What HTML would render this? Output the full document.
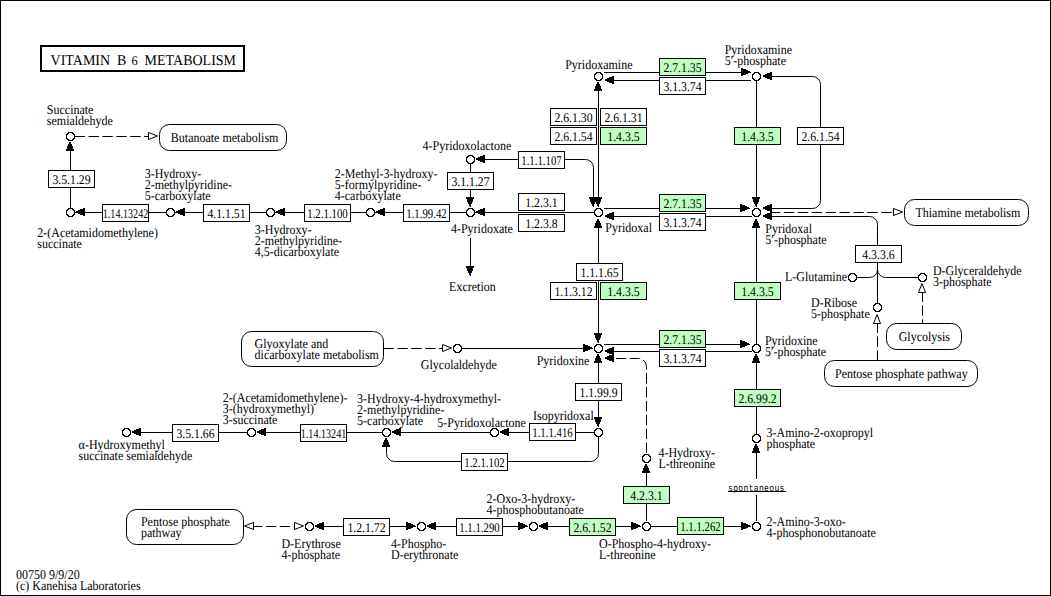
<!DOCTYPE html><html><head><meta charset="utf-8"><style>html,body{margin:0;padding:0;background:#fff;overflow:hidden}svg{display:block;text-rendering:geometricPrecision}.cpd{font-family:"Liberation Serif", serif;font-size:12px;fill:#000}.ec{font-family:"Liberation Serif", serif;font-size:12px;fill:#000}.ttl{font-family:"Liberation Serif", serif;fill:#000}.spon{font-family:"Liberation Mono", monospace;font-size:8px;fill:#000}</style></head><body>
<svg width="1051" height="596" viewBox="0 0 1051 596" stroke-width="1">
<rect x="0.5" y="0.5" width="1050" height="595" fill="#fff" stroke="#000"/>
<rect x="41" y="46" width="203" height="25" fill="#fff" stroke="#000" stroke-width="2"/>
<text transform="translate(50.6 64.7) scale(1 1.06)" class="ttl" style="font-size:14px">VITAMIN</text>
<text transform="translate(117.0 64.7) scale(1 1.06)" class="ttl" style="font-size:14px">B</text>
<text transform="translate(131.6 64.7) scale(1 1.06)" class="ttl" style="font-size:12.4px">6</text>
<text transform="translate(144.6 64.7) scale(1 1.06)" class="ttl" style="font-size:14px">METABOLISM</text>
<path d="M70.5 150V208" fill="none" stroke="#000"/>
<polygon points="69,142 69,144 68,144 68,146 67,146 67,149 66,149 66,151 74,151 74,149 73,149 73,146 72,146 72,144 71,144 71,142" fill="#000"/>
<path d="M74.6 136.5H148.5" fill="none" stroke="#000" stroke-dasharray="10.4 3.5"/>
<polygon points="157.5,136 148.5,132.5 148.5,139.5" fill="#fff" stroke="#000"/>
<path d="M75 212.5H166" fill="none" stroke="#000"/>
<polygon points="76,211 78,211 78,210 80,210 80,209 83,209 83,208 85,208 85,216 83,216 83,215 80,215 80,214 78,214 78,213 76,213" fill="#000"/>
<path d="M175 212.5H266" fill="none" stroke="#000"/>
<polygon points="176,211 178,211 178,210 180,210 180,209 183,209 183,208 185,208 185,216 183,216 183,215 180,215 180,214 178,214 178,213 176,213" fill="#000"/>
<path d="M275 212.5H366" fill="none" stroke="#000"/>
<polygon points="276,211 278,211 278,210 280,210 280,209 283,209 283,208 285,208 285,216 283,216 283,215 280,215 280,214 278,214 278,213 276,213" fill="#000"/>
<path d="M375 212.5H466" fill="none" stroke="#000"/>
<polygon points="376,211 378,211 378,210 380,210 380,209 383,209 383,208 385,208 385,216 383,216 383,215 380,215 380,214 378,214 378,213 376,213" fill="#000"/>
<path d="M475 212.5H594" fill="none" stroke="#000"/>
<polygon points="476,211 478,211 478,210 480,210 480,209 483,209 483,208 485,208 485,216 483,216 483,215 480,215 480,214 478,214 478,213 476,213" fill="#000"/>
<path d="M470.5 238V268" fill="none" stroke="#000"/>
<polygon points="470,276 470,275 469,275 469,273 468,273 468,271 467,271 467,268 466,268 466,266 474,266 474,268 473,268 473,271 472,271 472,273 471,273 471,275 471,275 471,276" fill="#000"/>
<path d="M470.5 164V200" fill="none" stroke="#000"/>
<polygon points="470,207 470,206 469,206 469,204 468,204 468,202 467,202 467,199 466,199 466,197 474,197 474,199 473,199 473,202 472,202 472,204 471,204 471,206 471,206 471,207" fill="#000"/>
<path d="M484 159.5 H585.5 A8 8 0 0 1 593.5 167.5 V200" fill="none" stroke="#000"/>
<polygon points="476,158 478,158 478,157 480,157 480,156 483,156 483,155 485,155 485,163 483,163 483,162 480,162 480,161 478,161 478,160 476,160" fill="#000"/>
<polygon points="593,207 593,206 592,206 592,204 591,204 591,202 590,202 590,199 589,199 589,197 597,197 597,199 596,199 596,202 595,202 595,204 594,204 594,206 594,206 594,207" fill="#000"/>
<path d="M598.5 88V200" fill="none" stroke="#000"/>
<polygon points="597,82 597,84 596,84 596,86 595,86 595,89 594,89 594,91 602,91 602,89 601,89 601,86 600,86 600,84 599,84 599,82" fill="#000"/>
<polygon points="598,207 598,206 597,206 597,204 596,204 596,202 595,202 595,199 594,199 594,197 602,197 602,199 601,199 601,202 600,202 600,204 599,204 599,206 599,206 599,207" fill="#000"/>
<path d="M604 72.5H744" fill="none" stroke="#000"/>
<polygon points="751,72 750,72 750,71 748,71 748,70 746,70 746,69 743,69 743,68 741,68 741,76 743,76 743,75 746,75 746,74 748,74 748,73 750,73 750,73 751,73" fill="#000"/>
<path d="M613 80.5H751" fill="none" stroke="#000"/>
<polygon points="605,79 607,79 607,78 609,78 609,77 612,77 612,76 614,76 614,84 612,84 612,83 609,83 609,82 607,82 607,81 605,81" fill="#000"/>
<path d="M756.5 81V200" fill="none" stroke="#000"/>
<polygon points="756,207 756,206 755,206 755,204 754,204 754,202 753,202 753,199 752,199 752,197 760,197 760,199 759,199 759,202 758,202 758,204 757,204 757,206 757,206 757,207" fill="#000"/>
<path d="M770 208.5 H812.5 A8 8 0 0 0 820.5 200.5 V84.5 A8 8 0 0 0 812.5 76.5 H770" fill="none" stroke="#000"/>
<polygon points="763,75 765,75 765,74 767,74 767,73 770,73 770,72 772,72 772,80 770,80 770,79 767,79 767,78 765,78 765,77 763,77" fill="#000"/>
<polygon points="763,207 765,207 765,206 767,206 767,205 770,205 770,204 772,204 772,212 770,212 770,211 767,211 767,210 765,210 765,209 763,209" fill="#000"/>
<path d="M604 208.5H744" fill="none" stroke="#000"/>
<polygon points="750,208 749,208 749,207 747,207 747,206 745,206 745,205 742,205 742,204 740,204 740,212 742,212 742,211 745,211 745,210 747,210 747,209 749,209 749,209 750,209" fill="#000"/>
<path d="M613 216.5H752" fill="none" stroke="#000"/>
<polygon points="605,215 607,215 607,214 609,214 609,213 612,213 612,212 614,212 614,220 612,220 612,219 609,219 609,218 607,218 607,217 605,217" fill="#000"/>
<path d="M770 212.5H893" fill="none" stroke="#000" stroke-dasharray="10.4 3.5"/>
<polygon points="902.5,212 893.5,208.5 893.5,215.5" fill="#fff" stroke="#000"/>
<path d="M770 216.5 H869.5 A8 8 0 0 1 877.5 224.5 V303" fill="none" stroke="#000"/>
<polygon points="763,215 765,215 765,214 767,214 767,213 770,213 770,212 772,212 772,220 770,220 770,219 767,219 767,218 765,218 765,217 763,217" fill="#000"/>
<path d="M857 277.5 H869.5 A8 8 0 0 0 877.5 269.5 A8 8 0 0 0 885.5 277.5 H918" fill="none" stroke="#000"/>
<path d="M756.5 226V344" fill="none" stroke="#000"/>
<polygon points="755,219 755,221 754,221 754,223 753,223 753,226 752,226 752,228 760,228 760,226 759,226 759,223 758,223 758,221 757,221 757,219" fill="#000"/>
<path d="M598.5 226V334" fill="none" stroke="#000"/>
<polygon points="597,219 597,221 596,221 596,223 595,223 595,226 594,226 594,228 602,228 602,226 601,226 601,223 600,223 600,221 599,221 599,219" fill="#000"/>
<polygon points="598,343 598,342 597,342 597,340 596,340 596,338 595,338 595,335 594,335 594,333 602,333 602,335 601,335 601,338 600,338 600,340 599,340 599,342 599,342 599,343" fill="#000"/>
<path d="M604 344.5H744" fill="none" stroke="#000"/>
<polygon points="750,344 749,344 749,343 747,343 747,342 745,342 745,341 742,341 742,340 740,340 740,348 742,348 742,347 745,347 745,346 747,346 747,345 749,345 749,345 750,345" fill="#000"/>
<path d="M613 351.5H752" fill="none" stroke="#000"/>
<polygon points="605,350 607,350 607,349 609,349 609,348 612,348 612,347 614,347 614,355 612,355 612,354 609,354 609,353 607,353 607,352 605,352" fill="#000"/>
<path d="M646.5 453 V366.5 A8 8 0 0 0 638.5 358.5 H612" fill="none" stroke="#000" stroke-dasharray="10.4 3.5"/>
<polygon points="605,357 607,357 607,356 609,356 609,355 612,355 612,354 614,354 614,362 612,362 612,361 609,361 609,360 607,360 607,359 605,359" fill="#000"/>
<path d="M462 348.5H585" fill="none" stroke="#000"/>
<polygon points="593,348 592,348 592,347 590,347 590,346 588,346 588,345 585,345 585,344 583,344 583,352 585,352 585,351 588,351 588,350 590,350 590,349 592,349 592,349 593,349" fill="#000"/>
<path d="M383.5 348.5H443" fill="none" stroke="#000" stroke-dasharray="10.4 3.5"/>
<polygon points="451.5,348 442.5,344.5 442.5,351.5" fill="#fff" stroke="#000"/>
<path d="M756.5 362V434" fill="none" stroke="#000"/>
<polygon points="755,354 755,356 754,356 754,358 753,358 753,361 752,361 752,363 760,363 760,361 759,361 759,358 758,358 758,356 757,356 757,354" fill="#000"/>
<path d="M756.5 495V521" fill="none" stroke="#000"/>
<path d="M756.5 452V479" fill="none" stroke="#000"/>
<polygon points="755,444 755,446 754,446 754,448 753,448 753,451 752,451 752,453 760,453 760,451 759,451 759,448 758,448 758,446 757,446 757,444" fill="#000"/>
<path d="M598.5 362V420" fill="none" stroke="#000"/>
<polygon points="597,354 597,356 596,356 596,358 595,358 595,361 594,361 594,363 602,363 602,361 601,361 601,358 600,358 600,356 599,356 599,354" fill="#000"/>
<polygon points="598,427 598,426 597,426 597,424 596,424 596,422 595,422 595,419 594,419 594,417 602,417 602,419 601,419 601,422 600,422 600,424 599,424 599,426 599,426 599,427" fill="#000"/>
<path d="M508 432.5H594" fill="none" stroke="#000"/>
<polygon points="500,431 502,431 502,430 504,430 504,429 507,429 507,428 509,428 509,436 507,436 507,435 504,435 504,434 502,434 502,433 500,433" fill="#000"/>
<path d="M598.5 437 V453.5 A8 8 0 0 1 590.5 461.5 H394.5 A8 8 0 0 1 386.5 453.5 V446" fill="none" stroke="#000"/>
<polygon points="385,438 385,440 384,440 384,442 383,442 383,445 382,445 382,447 390,447 390,445 389,445 389,442 388,442 388,440 387,440 387,438" fill="#000"/>
<path d="M400 432.5H490" fill="none" stroke="#000"/>
<polygon points="392,431 394,431 394,430 396,430 396,429 399,429 399,428 401,428 401,436 399,436 399,435 396,435 396,434 394,434 394,433 392,433" fill="#000"/>
<path d="M265 432.5H382" fill="none" stroke="#000"/>
<polygon points="257,431 259,431 259,430 261,430 261,429 264,429 264,428 266,428 266,436 264,436 264,435 261,435 261,434 259,434 259,433 257,433" fill="#000"/>
<path d="M140 432.5H247" fill="none" stroke="#000"/>
<polygon points="132,431 134,431 134,430 136,430 136,429 139,429 139,428 141,428 141,436 139,436 139,435 136,435 136,434 134,434 134,433 132,433" fill="#000"/>
<path d="M252 526.5H295" fill="none" stroke="#000" stroke-dasharray="10.4 3.5"/>
<polygon points="244.5,526 253.5,522.5 253.5,529.5" fill="#fff" stroke="#000"/>
<polygon points="303.5,526 294.5,522.5 294.5,529.5" fill="#fff" stroke="#000"/>
<path d="M323 526.5H408" fill="none" stroke="#000"/>
<polygon points="315,525 317,525 317,524 319,524 319,523 322,523 322,522 324,522 324,530 322,530 322,529 319,529 319,528 317,528 317,527 315,527" fill="#000"/>
<polygon points="416,526 415,526 415,525 413,525 413,524 411,524 411,523 408,523 408,522 406,522 406,530 408,530 408,529 411,529 411,528 413,528 413,527 415,527 415,527 416,527" fill="#000"/>
<path d="M435 526.5H520" fill="none" stroke="#000"/>
<polygon points="427,525 429,525 429,524 431,524 431,523 434,523 434,522 436,522 436,530 434,530 434,529 431,529 431,528 429,528 429,527 427,527" fill="#000"/>
<polygon points="528,526 527,526 527,525 525,525 525,524 523,524 523,523 520,523 520,522 518,522 518,530 520,530 520,529 523,529 523,528 525,528 525,527 527,527 527,527 528,527" fill="#000"/>
<path d="M548 526.5H633" fill="none" stroke="#000"/>
<polygon points="539,525 541,525 541,524 543,524 543,523 546,523 546,522 548,522 548,530 546,530 546,529 543,529 543,528 541,528 541,527 539,527" fill="#000"/>
<polygon points="641,526 640,526 640,525 638,525 638,524 636,524 636,523 633,523 633,522 631,522 631,530 633,530 633,529 636,529 636,528 638,528 638,527 640,527 640,527 641,527" fill="#000"/>
<path d="M646.5 472V521" fill="none" stroke="#000"/>
<polygon points="645,464 645,466 644,466 644,468 643,468 643,471 642,471 642,473 650,473 650,471 649,471 649,468 648,468 648,466 647,466 647,464" fill="#000"/>
<path d="M651 526.5H744" fill="none" stroke="#000"/>
<polygon points="751,526 750,526 750,525 748,525 748,524 746,524 746,523 743,523 743,522 741,522 741,530 743,530 743,529 746,529 746,528 748,528 748,527 750,527 750,527 751,527" fill="#000"/>
<path d="M922.5 291.5V323.5" fill="none" stroke="#000" stroke-dasharray="10.4 3.5"/>
<polygon points="922,283.5 918.5,292.5 925.5,292.5" fill="#fff" stroke="#000"/>
<path d="M877.5 322.5V360.5" fill="none" stroke="#000" stroke-dasharray="10.4 3.5"/>
<polygon points="877,314.5 873.5,323.5 880.5,323.5" fill="#fff" stroke="#000"/>
<rect x="48.5" y="170.5" width="46" height="17" fill="#fff" stroke="#000"/>
<text transform="translate(71.5 184) scale(1 1.1)" text-anchor="middle" class="ec" textLength="38.2" lengthAdjust="spacingAndGlyphs">3.5.1.29</text>
<rect x="102.5" y="204.5" width="46" height="17" fill="#fff" stroke="#000"/>
<text transform="translate(125.5 218) scale(1 1.1)" text-anchor="middle" class="ec" textLength="45.5" lengthAdjust="spacingAndGlyphs">1.14.13242</text>
<rect x="203.5" y="204.5" width="46" height="17" fill="#fff" stroke="#000"/>
<text transform="translate(226.5 218) scale(1 1.1)" text-anchor="middle" class="ec" textLength="38.2" lengthAdjust="spacingAndGlyphs">4.1.1.51</text>
<rect x="304.5" y="204.5" width="46" height="17" fill="#fff" stroke="#000"/>
<text transform="translate(327.5 218) scale(1 1.1)" text-anchor="middle" class="ec" textLength="40.5" lengthAdjust="spacingAndGlyphs">1.2.1.100</text>
<rect x="403.5" y="204.5" width="46" height="17" fill="#fff" stroke="#000"/>
<text transform="translate(426.5 218) scale(1 1.1)" text-anchor="middle" class="ec" textLength="40.5" lengthAdjust="spacingAndGlyphs">1.1.99.42</text>
<rect x="447.5" y="172.5" width="46" height="17" fill="#fff" stroke="#000"/>
<text transform="translate(470.5 186) scale(1 1.1)" text-anchor="middle" class="ec" textLength="38.2" lengthAdjust="spacingAndGlyphs">3.1.1.27</text>
<rect x="518.5" y="151.5" width="46" height="17" fill="#fff" stroke="#000"/>
<text transform="translate(541.5 165) scale(1 1.1)" text-anchor="middle" class="ec" textLength="40.5" lengthAdjust="spacingAndGlyphs">1.1.1.107</text>
<rect x="518.5" y="193.5" width="46" height="17" fill="#fff" stroke="#000"/>
<text transform="translate(541.5 207) scale(1 1.1)" text-anchor="middle" class="ec" textLength="32.5" lengthAdjust="spacingAndGlyphs">1.2.3.1</text>
<rect x="518.5" y="214.5" width="46" height="17" fill="#fff" stroke="#000"/>
<text transform="translate(541.5 228) scale(1 1.1)" text-anchor="middle" class="ec" textLength="32.5" lengthAdjust="spacingAndGlyphs">1.2.3.8</text>
<rect x="550.5" y="108.5" width="46" height="17" fill="#fff" stroke="#000"/>
<text transform="translate(573.5 122) scale(1 1.1)" text-anchor="middle" class="ec" textLength="38.2" lengthAdjust="spacingAndGlyphs">2.6.1.30</text>
<rect x="600.5" y="108.5" width="46" height="17" fill="#fff" stroke="#000"/>
<text transform="translate(623.5 122) scale(1 1.1)" text-anchor="middle" class="ec" textLength="38.2" lengthAdjust="spacingAndGlyphs">2.6.1.31</text>
<rect x="550.5" y="127.5" width="46" height="17" fill="#fff" stroke="#000"/>
<text transform="translate(573.5 141) scale(1 1.1)" text-anchor="middle" class="ec" textLength="38.2" lengthAdjust="spacingAndGlyphs">2.6.1.54</text>
<rect x="600.5" y="127.5" width="46" height="17" fill="#bfffbf" stroke="#000"/>
<text transform="translate(623.5 141) scale(1 1.1)" text-anchor="middle" class="ec" textLength="32.5" lengthAdjust="spacingAndGlyphs">1.4.3.5</text>
<rect x="659.5" y="58.5" width="46" height="17" fill="#bfffbf" stroke="#000"/>
<text transform="translate(682.5 72) scale(1 1.1)" text-anchor="middle" class="ec" textLength="38.2" lengthAdjust="spacingAndGlyphs">2.7.1.35</text>
<rect x="659.5" y="77.5" width="46" height="17" fill="#fff" stroke="#000"/>
<text transform="translate(682.5 91) scale(1 1.1)" text-anchor="middle" class="ec" textLength="38.2" lengthAdjust="spacingAndGlyphs">3.1.3.74</text>
<rect x="734.5" y="127.5" width="46" height="17" fill="#bfffbf" stroke="#000"/>
<text transform="translate(757.5 141) scale(1 1.1)" text-anchor="middle" class="ec" textLength="32.5" lengthAdjust="spacingAndGlyphs">1.4.3.5</text>
<rect x="797.5" y="127.5" width="46" height="17" fill="#fff" stroke="#000"/>
<text transform="translate(820.5 141) scale(1 1.1)" text-anchor="middle" class="ec" textLength="38.2" lengthAdjust="spacingAndGlyphs">2.6.1.54</text>
<rect x="659.5" y="194.5" width="46" height="17" fill="#bfffbf" stroke="#000"/>
<text transform="translate(682.5 208) scale(1 1.1)" text-anchor="middle" class="ec" textLength="38.2" lengthAdjust="spacingAndGlyphs">2.7.1.35</text>
<rect x="659.5" y="213.5" width="46" height="17" fill="#fff" stroke="#000"/>
<text transform="translate(682.5 227) scale(1 1.1)" text-anchor="middle" class="ec" textLength="38.2" lengthAdjust="spacingAndGlyphs">3.1.3.74</text>
<rect x="855.5" y="245.5" width="46" height="17" fill="#fff" stroke="#000"/>
<text transform="translate(878.5 259) scale(1 1.1)" text-anchor="middle" class="ec" textLength="32.5" lengthAdjust="spacingAndGlyphs">4.3.3.6</text>
<rect x="576.5" y="263.5" width="46" height="17" fill="#fff" stroke="#000"/>
<text transform="translate(599.5 277) scale(1 1.1)" text-anchor="middle" class="ec" textLength="38.2" lengthAdjust="spacingAndGlyphs">1.1.1.65</text>
<rect x="550.5" y="282.5" width="46" height="17" fill="#fff" stroke="#000"/>
<text transform="translate(573.5 296) scale(1 1.1)" text-anchor="middle" class="ec" textLength="38.2" lengthAdjust="spacingAndGlyphs">1.1.3.12</text>
<rect x="600.5" y="282.5" width="46" height="17" fill="#bfffbf" stroke="#000"/>
<text transform="translate(623.5 296) scale(1 1.1)" text-anchor="middle" class="ec" textLength="32.5" lengthAdjust="spacingAndGlyphs">1.4.3.5</text>
<rect x="734.5" y="282.5" width="46" height="17" fill="#bfffbf" stroke="#000"/>
<text transform="translate(757.5 296) scale(1 1.1)" text-anchor="middle" class="ec" textLength="32.5" lengthAdjust="spacingAndGlyphs">1.4.3.5</text>
<rect x="659.5" y="330.5" width="46" height="17" fill="#bfffbf" stroke="#000"/>
<text transform="translate(682.5 344) scale(1 1.1)" text-anchor="middle" class="ec" textLength="38.2" lengthAdjust="spacingAndGlyphs">2.7.1.35</text>
<rect x="659.5" y="349.5" width="46" height="17" fill="#fff" stroke="#000"/>
<text transform="translate(682.5 363) scale(1 1.1)" text-anchor="middle" class="ec" textLength="38.2" lengthAdjust="spacingAndGlyphs">3.1.3.74</text>
<rect x="734.5" y="389.5" width="46" height="17" fill="#bfffbf" stroke="#000"/>
<text transform="translate(757.5 403) scale(1 1.1)" text-anchor="middle" class="ec" textLength="38.2" lengthAdjust="spacingAndGlyphs">2.6.99.2</text>
<rect x="575.5" y="383.5" width="46" height="17" fill="#fff" stroke="#000"/>
<text transform="translate(598.5 397) scale(1 1.1)" text-anchor="middle" class="ec" textLength="38.2" lengthAdjust="spacingAndGlyphs">1.1.99.9</text>
<rect x="529.5" y="423.5" width="46" height="17" fill="#fff" stroke="#000"/>
<text transform="translate(552.5 437) scale(1 1.1)" text-anchor="middle" class="ec" textLength="40.5" lengthAdjust="spacingAndGlyphs">1.1.1.416</text>
<rect x="461.5" y="453.5" width="46" height="17" fill="#fff" stroke="#000"/>
<text transform="translate(484.5 467) scale(1 1.1)" text-anchor="middle" class="ec" textLength="40.5" lengthAdjust="spacingAndGlyphs">1.2.1.102</text>
<rect x="172.5" y="424.5" width="46" height="17" fill="#fff" stroke="#000"/>
<text transform="translate(195.5 438) scale(1 1.1)" text-anchor="middle" class="ec" textLength="38.2" lengthAdjust="spacingAndGlyphs">3.5.1.66</text>
<rect x="300.5" y="424.5" width="46" height="17" fill="#fff" stroke="#000"/>
<text transform="translate(323.5 438) scale(1 1.1)" text-anchor="middle" class="ec" textLength="45.5" lengthAdjust="spacingAndGlyphs">1.14.13241</text>
<rect x="343.5" y="518.5" width="46" height="17" fill="#fff" stroke="#000"/>
<text transform="translate(366.5 532) scale(1 1.1)" text-anchor="middle" class="ec" textLength="38.2" lengthAdjust="spacingAndGlyphs">1.2.1.72</text>
<rect x="456.5" y="518.5" width="46" height="17" fill="#fff" stroke="#000"/>
<text transform="translate(479.5 532) scale(1 1.1)" text-anchor="middle" class="ec" textLength="40.5" lengthAdjust="spacingAndGlyphs">1.1.1.290</text>
<rect x="569.5" y="518.5" width="46" height="17" fill="#bfffbf" stroke="#000"/>
<text transform="translate(592.5 532) scale(1 1.1)" text-anchor="middle" class="ec" textLength="38.2" lengthAdjust="spacingAndGlyphs">2.6.1.52</text>
<rect x="623.5" y="486.5" width="46" height="17" fill="#bfffbf" stroke="#000"/>
<text transform="translate(646.5 500) scale(1 1.1)" text-anchor="middle" class="ec" textLength="32.5" lengthAdjust="spacingAndGlyphs">4.2.3.1</text>
<rect x="677.5" y="517.5" width="46" height="17" fill="#bfffbf" stroke="#000"/>
<text transform="translate(700.5 531) scale(1 1.1)" text-anchor="middle" class="ec" textLength="40.5" lengthAdjust="spacingAndGlyphs">1.1.1.262</text>
<polygon points="68,132 73,132 73,133 74,133 74,134 75,134 75,139 74,139 74,140 73,140 73,141 68,141 68,140 67,140 67,139 66,139 66,134 67,134 67,133 68,133" fill="#000" shape-rendering="crispEdges"/><polygon points="69,133 72,133 72,134 73,134 73,135 74,135 74,138 73,138 73,139 72,139 72,140 69,140 69,139 68,139 68,138 67,138 67,135 68,135 68,134 69,134" fill="#fff" shape-rendering="crispEdges"/>
<polygon points="68,208 73,208 73,209 74,209 74,210 75,210 75,215 74,215 74,216 73,216 73,217 68,217 68,216 67,216 67,215 66,215 66,210 67,210 67,209 68,209" fill="#000" shape-rendering="crispEdges"/><polygon points="69,209 72,209 72,210 73,210 73,211 74,211 74,214 73,214 73,215 72,215 72,216 69,216 69,215 68,215 68,214 67,214 67,211 68,211 68,210 69,210" fill="#fff" shape-rendering="crispEdges"/>
<polygon points="168,208 173,208 173,209 174,209 174,210 175,210 175,215 174,215 174,216 173,216 173,217 168,217 168,216 167,216 167,215 166,215 166,210 167,210 167,209 168,209" fill="#000" shape-rendering="crispEdges"/><polygon points="169,209 172,209 172,210 173,210 173,211 174,211 174,214 173,214 173,215 172,215 172,216 169,216 169,215 168,215 168,214 167,214 167,211 168,211 168,210 169,210" fill="#fff" shape-rendering="crispEdges"/>
<polygon points="268,208 273,208 273,209 274,209 274,210 275,210 275,215 274,215 274,216 273,216 273,217 268,217 268,216 267,216 267,215 266,215 266,210 267,210 267,209 268,209" fill="#000" shape-rendering="crispEdges"/><polygon points="269,209 272,209 272,210 273,210 273,211 274,211 274,214 273,214 273,215 272,215 272,216 269,216 269,215 268,215 268,214 267,214 267,211 268,211 268,210 269,210" fill="#fff" shape-rendering="crispEdges"/>
<polygon points="368,208 373,208 373,209 374,209 374,210 375,210 375,215 374,215 374,216 373,216 373,217 368,217 368,216 367,216 367,215 366,215 366,210 367,210 367,209 368,209" fill="#000" shape-rendering="crispEdges"/><polygon points="369,209 372,209 372,210 373,210 373,211 374,211 374,214 373,214 373,215 372,215 372,216 369,216 369,215 368,215 368,214 367,214 367,211 368,211 368,210 369,210" fill="#fff" shape-rendering="crispEdges"/>
<polygon points="468,208 473,208 473,209 474,209 474,210 475,210 475,215 474,215 474,216 473,216 473,217 468,217 468,216 467,216 467,215 466,215 466,210 467,210 467,209 468,209" fill="#000" shape-rendering="crispEdges"/><polygon points="469,209 472,209 472,210 473,210 473,211 474,211 474,214 473,214 473,215 472,215 472,216 469,216 469,215 468,215 468,214 467,214 467,211 468,211 468,210 469,210" fill="#fff" shape-rendering="crispEdges"/>
<polygon points="468,155 473,155 473,156 474,156 474,157 475,157 475,162 474,162 474,163 473,163 473,164 468,164 468,163 467,163 467,162 466,162 466,157 467,157 467,156 468,156" fill="#000" shape-rendering="crispEdges"/><polygon points="469,156 472,156 472,157 473,157 473,158 474,158 474,161 473,161 473,162 472,162 472,163 469,163 469,162 468,162 468,161 467,161 467,158 468,158 468,157 469,157" fill="#fff" shape-rendering="crispEdges"/>
<polygon points="596,72 601,72 601,73 602,73 602,74 603,74 603,79 602,79 602,80 601,80 601,81 596,81 596,80 595,80 595,79 594,79 594,74 595,74 595,73 596,73" fill="#000" shape-rendering="crispEdges"/><polygon points="597,73 600,73 600,74 601,74 601,75 602,75 602,78 601,78 601,79 600,79 600,80 597,80 597,79 596,79 596,78 595,78 595,75 596,75 596,74 597,74" fill="#fff" shape-rendering="crispEdges"/>
<polygon points="754,72 759,72 759,73 760,73 760,74 761,74 761,79 760,79 760,80 759,80 759,81 754,81 754,80 753,80 753,79 752,79 752,74 753,74 753,73 754,73" fill="#000" shape-rendering="crispEdges"/><polygon points="755,73 758,73 758,74 759,74 759,75 760,75 760,78 759,78 759,79 758,79 758,80 755,80 755,79 754,79 754,78 753,78 753,75 754,75 754,74 755,74" fill="#fff" shape-rendering="crispEdges"/>
<polygon points="596,208 601,208 601,209 602,209 602,210 603,210 603,215 602,215 602,216 601,216 601,217 596,217 596,216 595,216 595,215 594,215 594,210 595,210 595,209 596,209" fill="#000" shape-rendering="crispEdges"/><polygon points="597,209 600,209 600,210 601,210 601,211 602,211 602,214 601,214 601,215 600,215 600,216 597,216 597,215 596,215 596,214 595,214 595,211 596,211 596,210 597,210" fill="#fff" shape-rendering="crispEdges"/>
<polygon points="754,208 759,208 759,209 760,209 760,210 761,210 761,215 760,215 760,216 759,216 759,217 754,217 754,216 753,216 753,215 752,215 752,210 753,210 753,209 754,209" fill="#000" shape-rendering="crispEdges"/><polygon points="755,209 758,209 758,210 759,210 759,211 760,211 760,214 759,214 759,215 758,215 758,216 755,216 755,215 754,215 754,214 753,214 753,211 754,211 754,210 755,210" fill="#fff" shape-rendering="crispEdges"/>
<polygon points="596,344 601,344 601,345 602,345 602,346 603,346 603,351 602,351 602,352 601,352 601,353 596,353 596,352 595,352 595,351 594,351 594,346 595,346 595,345 596,345" fill="#000" shape-rendering="crispEdges"/><polygon points="597,345 600,345 600,346 601,346 601,347 602,347 602,350 601,350 601,351 600,351 600,352 597,352 597,351 596,351 596,350 595,350 595,347 596,347 596,346 597,346" fill="#fff" shape-rendering="crispEdges"/>
<polygon points="754,344 759,344 759,345 760,345 760,346 761,346 761,351 760,351 760,352 759,352 759,353 754,353 754,352 753,352 753,351 752,351 752,346 753,346 753,345 754,345" fill="#000" shape-rendering="crispEdges"/><polygon points="755,345 758,345 758,346 759,346 759,347 760,347 760,350 759,350 759,351 758,351 758,352 755,352 755,351 754,351 754,350 753,350 753,347 754,347 754,346 755,346" fill="#fff" shape-rendering="crispEdges"/>
<polygon points="455,344 460,344 460,345 461,345 461,346 462,346 462,351 461,351 461,352 460,352 460,353 455,353 455,352 454,352 454,351 453,351 453,346 454,346 454,345 455,345" fill="#000" shape-rendering="crispEdges"/><polygon points="456,345 459,345 459,346 460,346 460,347 461,347 461,350 460,350 460,351 459,351 459,352 456,352 456,351 455,351 455,350 454,350 454,347 455,347 455,346 456,346" fill="#fff" shape-rendering="crispEdges"/>
<polygon points="850,273 855,273 855,274 856,274 856,275 857,275 857,280 856,280 856,281 855,281 855,282 850,282 850,281 849,281 849,280 848,280 848,275 849,275 849,274 850,274" fill="#000" shape-rendering="crispEdges"/><polygon points="851,274 854,274 854,275 855,275 855,276 856,276 856,279 855,279 855,280 854,280 854,281 851,281 851,280 850,280 850,279 849,279 849,276 850,276 850,275 851,275" fill="#fff" shape-rendering="crispEdges"/>
<polygon points="920,273 925,273 925,274 926,274 926,275 927,275 927,280 926,280 926,281 925,281 925,282 920,282 920,281 919,281 919,280 918,280 918,275 919,275 919,274 920,274" fill="#000" shape-rendering="crispEdges"/><polygon points="921,274 924,274 924,275 925,275 925,276 926,276 926,279 925,279 925,280 924,280 924,281 921,281 921,280 920,280 920,279 919,279 919,276 920,276 920,275 921,275" fill="#fff" shape-rendering="crispEdges"/>
<polygon points="875,303 880,303 880,304 881,304 881,305 882,305 882,310 881,310 881,311 880,311 880,312 875,312 875,311 874,311 874,310 873,310 873,305 874,305 874,304 875,304" fill="#000" shape-rendering="crispEdges"/><polygon points="876,304 879,304 879,305 880,305 880,306 881,306 881,309 880,309 880,310 879,310 879,311 876,311 876,310 875,310 875,309 874,309 874,306 875,306 875,305 876,305" fill="#fff" shape-rendering="crispEdges"/>
<polygon points="596,428 601,428 601,429 602,429 602,430 603,430 603,435 602,435 602,436 601,436 601,437 596,437 596,436 595,436 595,435 594,435 594,430 595,430 595,429 596,429" fill="#000" shape-rendering="crispEdges"/><polygon points="597,429 600,429 600,430 601,430 601,431 602,431 602,434 601,434 601,435 600,435 600,436 597,436 597,435 596,435 596,434 595,434 595,431 596,431 596,430 597,430" fill="#fff" shape-rendering="crispEdges"/>
<polygon points="492,428 497,428 497,429 498,429 498,430 499,430 499,435 498,435 498,436 497,436 497,437 492,437 492,436 491,436 491,435 490,435 490,430 491,430 491,429 492,429" fill="#000" shape-rendering="crispEdges"/><polygon points="493,429 496,429 496,430 497,430 497,431 498,431 498,434 497,434 497,435 496,435 496,436 493,436 493,435 492,435 492,434 491,434 491,431 492,431 492,430 493,430" fill="#fff" shape-rendering="crispEdges"/>
<polygon points="384,428 389,428 389,429 390,429 390,430 391,430 391,435 390,435 390,436 389,436 389,437 384,437 384,436 383,436 383,435 382,435 382,430 383,430 383,429 384,429" fill="#000" shape-rendering="crispEdges"/><polygon points="385,429 388,429 388,430 389,430 389,431 390,431 390,434 389,434 389,435 388,435 388,436 385,436 385,435 384,435 384,434 383,434 383,431 384,431 384,430 385,430" fill="#fff" shape-rendering="crispEdges"/>
<polygon points="249,428 254,428 254,429 255,429 255,430 256,430 256,435 255,435 255,436 254,436 254,437 249,437 249,436 248,436 248,435 247,435 247,430 248,430 248,429 249,429" fill="#000" shape-rendering="crispEdges"/><polygon points="250,429 253,429 253,430 254,430 254,431 255,431 255,434 254,434 254,435 253,435 253,436 250,436 250,435 249,435 249,434 248,434 248,431 249,431 249,430 250,430" fill="#fff" shape-rendering="crispEdges"/>
<polygon points="124,428 129,428 129,429 130,429 130,430 131,430 131,435 130,435 130,436 129,436 129,437 124,437 124,436 123,436 123,435 122,435 122,430 123,430 123,429 124,429" fill="#000" shape-rendering="crispEdges"/><polygon points="125,429 128,429 128,430 129,430 129,431 130,431 130,434 129,434 129,435 128,435 128,436 125,436 125,435 124,435 124,434 123,434 123,431 124,431 124,430 125,430" fill="#fff" shape-rendering="crispEdges"/>
<polygon points="644,454 649,454 649,455 650,455 650,456 651,456 651,461 650,461 650,462 649,462 649,463 644,463 644,462 643,462 643,461 642,461 642,456 643,456 643,455 644,455" fill="#000" shape-rendering="crispEdges"/><polygon points="645,455 648,455 648,456 649,456 649,457 650,457 650,460 649,460 649,461 648,461 648,462 645,462 645,461 644,461 644,460 643,460 643,457 644,457 644,456 645,456" fill="#fff" shape-rendering="crispEdges"/>
<polygon points="754,434 759,434 759,435 760,435 760,436 761,436 761,441 760,441 760,442 759,442 759,443 754,443 754,442 753,442 753,441 752,441 752,436 753,436 753,435 754,435" fill="#000" shape-rendering="crispEdges"/><polygon points="755,435 758,435 758,436 759,436 759,437 760,437 760,440 759,440 759,441 758,441 758,442 755,442 755,441 754,441 754,440 753,440 753,437 754,437 754,436 755,436" fill="#fff" shape-rendering="crispEdges"/>
<polygon points="754,522 759,522 759,523 760,523 760,524 761,524 761,529 760,529 760,530 759,530 759,531 754,531 754,530 753,530 753,529 752,529 752,524 753,524 753,523 754,523" fill="#000" shape-rendering="crispEdges"/><polygon points="755,523 758,523 758,524 759,524 759,525 760,525 760,528 759,528 759,529 758,529 758,530 755,530 755,529 754,529 754,528 753,528 753,525 754,525 754,524 755,524" fill="#fff" shape-rendering="crispEdges"/>
<polygon points="644,522 649,522 649,523 650,523 650,524 651,524 651,529 650,529 650,530 649,530 649,531 644,531 644,530 643,530 643,529 642,529 642,524 643,524 643,523 644,523" fill="#000" shape-rendering="crispEdges"/><polygon points="645,523 648,523 648,524 649,524 649,525 650,525 650,528 649,528 649,529 648,529 648,530 645,530 645,529 644,529 644,528 643,528 643,525 644,525 644,524 645,524" fill="#fff" shape-rendering="crispEdges"/>
<polygon points="531,522 536,522 536,523 537,523 537,524 538,524 538,529 537,529 537,530 536,530 536,531 531,531 531,530 530,530 530,529 529,529 529,524 530,524 530,523 531,523" fill="#000" shape-rendering="crispEdges"/><polygon points="532,523 535,523 535,524 536,524 536,525 537,525 537,528 536,528 536,529 535,529 535,530 532,530 532,529 531,529 531,528 530,528 530,525 531,525 531,524 532,524" fill="#fff" shape-rendering="crispEdges"/>
<polygon points="419,522 424,522 424,523 425,523 425,524 426,524 426,529 425,529 425,530 424,530 424,531 419,531 419,530 418,530 418,529 417,529 417,524 418,524 418,523 419,523" fill="#000" shape-rendering="crispEdges"/><polygon points="420,523 423,523 423,524 424,524 424,525 425,525 425,528 424,528 424,529 423,529 423,530 420,530 420,529 419,529 419,528 418,528 418,525 419,525 419,524 420,524" fill="#fff" shape-rendering="crispEdges"/>
<polygon points="307,522 312,522 312,523 313,523 313,524 314,524 314,529 313,529 313,530 312,530 312,531 307,531 307,530 306,530 306,529 305,529 305,524 306,524 306,523 307,523" fill="#000" shape-rendering="crispEdges"/><polygon points="308,523 311,523 311,524 312,524 312,525 313,525 313,528 312,528 312,529 311,529 311,530 308,530 308,529 307,529 307,528 306,528 306,525 307,525 307,524 308,524" fill="#fff" shape-rendering="crispEdges"/>
<rect x="159.5" y="124.5" width="127" height="26" rx="10" ry="10" fill="#fff" stroke="#000"/>
<text transform="translate(170.8 141.9) scale(1 1.12)" class="cpd">Butanoate metabolism</text>
<rect x="904.5" y="199.5" width="124" height="26" rx="10" ry="10" fill="#fff" stroke="#000"/>
<text transform="translate(915.4 217.2) scale(1 1.12)" class="cpd">Thiamine metabolism</text>
<rect x="241.5" y="331.5" width="142" height="35" rx="10" ry="10" fill="#fff" stroke="#000"/>
<text transform="translate(254.6 347.9) scale(1 1.12)" class="cpd">Glyoxylate and</text>
<text transform="translate(254.6 358.9) scale(1 1.12)" class="cpd">dicarboxylate metabolism</text>
<rect x="886.5" y="323.5" width="75" height="26" rx="10" ry="10" fill="#fff" stroke="#000"/>
<text transform="translate(898.7 340.9) scale(1 1.12)" class="cpd">Glycolysis</text>
<rect x="824.5" y="360.5" width="153" height="26" rx="10" ry="10" fill="#fff" stroke="#000"/>
<text transform="translate(835 377.6) scale(1 1.12)" class="cpd">Pentose phosphate pathway</text>
<rect x="126.5" y="509.5" width="117" height="35" rx="10" ry="10" fill="#fff" stroke="#000"/>
<text transform="translate(140.9 525.9) scale(1 1.12)" class="cpd">Pentose phosphate</text>
<text transform="translate(140.9 536.9) scale(1 1.12)" class="cpd">pathway</text>
<text transform="translate(46.8 114) scale(1 1.12)" class="cpd">Succinate</text>
<text transform="translate(46.8 125) scale(1 1.12)" class="cpd">semialdehyde</text>
<text transform="translate(37.3 237.3) scale(1 1.12)" class="cpd">2-(Acetamidomethylene)</text>
<text transform="translate(37.3 248.3) scale(1 1.12)" class="cpd">succinate</text>
<text transform="translate(144.7 178) scale(1 1.12)" class="cpd">3-Hydroxy-</text>
<text transform="translate(144.7 189) scale(1 1.12)" class="cpd">2-methylpyridine-</text>
<text transform="translate(144.7 200) scale(1 1.12)" class="cpd">5-carboxylate</text>
<text transform="translate(254.8 234.2) scale(1 1.12)" class="cpd">3-Hydroxy-</text>
<text transform="translate(254.8 245.2) scale(1 1.12)" class="cpd">2-methylpyridine-</text>
<text transform="translate(254.8 256.2) scale(1 1.12)" class="cpd">4,5-dicarboxylate</text>
<text transform="translate(334.8 178) scale(1 1.12)" class="cpd">2-Methyl-3-hydroxy-</text>
<text transform="translate(334.8 189) scale(1 1.12)" class="cpd">5-formylpyridine-</text>
<text transform="translate(334.8 200) scale(1 1.12)" class="cpd">4-carboxylate</text>
<text transform="translate(422.6 149.6) scale(1 1.12)" class="cpd">4-Pyridoxolactone</text>
<text transform="translate(450.9 233) scale(1 1.12)" class="cpd">4-Pyridoxate</text>
<text transform="translate(449.1 291.2) scale(1 1.12)" class="cpd">Excretion</text>
<text transform="translate(565.2 68.9) scale(1 1.12)" class="cpd">Pyridoxamine</text>
<text transform="translate(724.7 54.2) scale(1 1.12)" class="cpd">Pyridoxamine</text>
<text transform="translate(724.7 65.2) scale(1 1.12)" class="cpd">5&#8242;-phosphate</text>
<text transform="translate(605.3 232) scale(1 1.12)" class="cpd">Pyridoxal</text>
<text transform="translate(765.3 233) scale(1 1.12)" class="cpd">Pyridoxal</text>
<text transform="translate(765.3 244) scale(1 1.12)" class="cpd">5&#8242;-phosphate</text>
<text transform="translate(785 280.9) scale(1 1.12)" class="cpd">L-Glutamine</text>
<text transform="translate(932.9 274.9) scale(1 1.12)" class="cpd">D-Glyceraldehyde</text>
<text transform="translate(932.9 285.9) scale(1 1.12)" class="cpd">3-phosphate</text>
<text transform="translate(811.1 307.2) scale(1 1.12)" class="cpd">D-Ribose</text>
<text transform="translate(811.1 318.2) scale(1 1.12)" class="cpd">5-phosphate</text>
<text transform="translate(536.7 364.5) scale(1 1.12)" class="cpd">Pyridoxine</text>
<text transform="translate(764.9 344.8) scale(1 1.12)" class="cpd">Pyridoxine</text>
<text transform="translate(764.9 355.8) scale(1 1.12)" class="cpd">5&#8242;-phosphate</text>
<text transform="translate(420.8 369.2) scale(1 1.12)" class="cpd">Glycolaldehyde</text>
<text transform="translate(533.1 420.4) scale(1 1.12)" class="cpd">Isopyridoxal</text>
<text transform="translate(437.3 427) scale(1 1.12)" class="cpd">5-Pyridoxolactone</text>
<text transform="translate(357.1 403.1) scale(1 1.12)" class="cpd">3-Hydroxy-4-hydroxymethyl-</text>
<text transform="translate(357.1 414.1) scale(1 1.12)" class="cpd">2-methylpyridine-</text>
<text transform="translate(357.1 425.1) scale(1 1.12)" class="cpd">5-carboxylate</text>
<text transform="translate(222.8 402.2) scale(1 1.12)" class="cpd">2-(Acetamidomethylene)-</text>
<text transform="translate(222.8 413.2) scale(1 1.12)" class="cpd">3-(hydroxymethyl)</text>
<text transform="translate(222.8 424.2) scale(1 1.12)" class="cpd">3-succinate</text>
<text transform="translate(78.6 448.8) scale(1 1.12)" class="cpd">&#945;-Hydroxymethyl</text>
<text transform="translate(78.6 459.8) scale(1 1.12)" class="cpd">succinate semialdehyde</text>
<text transform="translate(658.4 456.9) scale(1 1.12)" class="cpd">4-Hydroxy-</text>
<text transform="translate(658.4 467.9) scale(1 1.12)" class="cpd">L-threonine</text>
<text transform="translate(766.5 437.2) scale(1 1.12)" class="cpd">3-Amino-2-oxopropyl</text>
<text transform="translate(766.5 448.2) scale(1 1.12)" class="cpd">phosphate</text>
<text transform="translate(766.5 526) scale(1 1.12)" class="cpd">2-Amino-3-oxo-</text>
<text transform="translate(766.5 537) scale(1 1.12)" class="cpd">4-phosphonobutanoate</text>
<text transform="translate(599 548) scale(1 1.12)" class="cpd">O-Phospho-4-hydroxy-</text>
<text transform="translate(599 559) scale(1 1.12)" class="cpd">L-threonine</text>
<text transform="translate(486.6 503) scale(1 1.12)" class="cpd">2-Oxo-3-hydroxy-</text>
<text transform="translate(486.6 514) scale(1 1.12)" class="cpd">4-phosphobutanoate</text>
<text transform="translate(391 548) scale(1 1.12)" class="cpd">4-Phospho-</text>
<text transform="translate(391 559) scale(1 1.12)" class="cpd">D-erythronate</text>
<text transform="translate(281.4 548) scale(1 1.12)" class="cpd">D-Erythrose</text>
<text transform="translate(281.4 559) scale(1 1.12)" class="cpd">4-phosphate</text>
<text transform="translate(16 578.9) scale(1 1.12)" class="cpd">00750 9/9/20</text>
<text transform="translate(16 589.9) scale(1 1.12)" class="cpd">(c) Kanehisa Laboratories</text>
<text transform="translate(728 490.8) scale(1 1.2)" class="spon" textLength="56.4" lengthAdjust="spacing">spontaneous</text>
<path d="M728 491.5H786" stroke="#000"/>
</svg></body></html>
